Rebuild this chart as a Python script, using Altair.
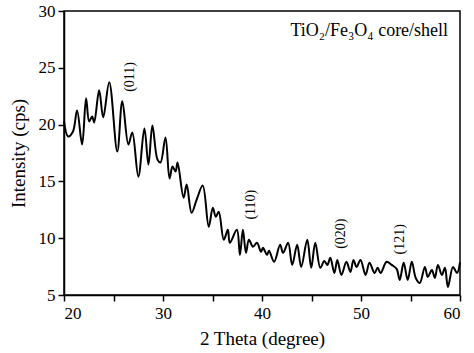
import altair as alt
import pandas as pd

# XRD pattern (2θ in degrees, intensity in cps)
two_theta = [20.0, 20.41, 20.91, 21.32, 21.83, 22.23, 22.54, 22.84, 23.05, 23.55,
             23.96, 24.57, 25.38, 25.89, 26.50, 26.90, 27.51, 28.12, 28.53, 28.93,
             29.44, 29.75, 30.25, 30.66, 30.96, 31.27, 31.47, 32.08, 32.39, 32.89,
             33.40, 34.01, 34.62, 35.03, 35.33, 35.63, 36.14, 36.55, 36.75, 37.46,
             37.77, 38.07, 38.38, 38.68, 39.09, 39.49, 39.90, 40.10, 40.51, 40.71,
             41.22, 41.83, 42.13, 42.64, 43.05, 43.55, 43.96, 44.57, 44.97, 45.38,
             45.89, 46.29, 46.60, 46.90, 47.31, 47.61, 48.02, 48.53, 48.93, 49.24,
             49.54, 49.95, 50.46, 50.86, 51.37, 51.68, 51.98, 52.59, 53.10, 53.60,
             53.91, 54.31, 54.72, 55.13, 55.53, 55.94, 56.45, 56.75, 57.16, 57.46,
             57.77, 58.17, 58.48, 58.78, 59.29, 59.70, 60.0]
intensity = [20.28, 18.96, 19.40, 21.25, 18.25, 22.31, 20.28, 20.72, 20.19, 23.02,
             20.64, 23.73, 17.63, 22.05, 18.25, 19.31, 15.42, 19.66, 16.48, 19.93,
             16.93, 16.66, 18.87, 15.25, 16.31, 15.87, 16.66, 13.57, 14.72, 12.24,
             13.39, 14.63, 11.01, 12.69, 11.89, 12.33, 9.86, 10.74, 9.59, 10.74,
             8.53, 10.74, 8.71, 9.86, 9.24, 9.59, 8.80, 9.15, 8.53, 8.89,
             7.92, 9.42, 8.71, 9.59, 7.65, 9.42, 7.47, 9.86, 7.39, 9.59,
             7.39, 8.00, 7.65, 8.27, 6.94, 8.09, 6.77, 7.92, 7.03, 8.09,
             7.47, 8.09, 6.77, 7.83, 6.94, 7.39, 6.94, 7.92, 7.65, 7.30,
             6.33, 7.83, 6.33, 7.92, 6.50, 6.06, 7.47, 6.59, 7.21, 6.50,
             7.65, 6.77, 7.39, 5.71, 7.47, 6.94, 7.90]

peak_labels = ["(011)", "(110)", "(020)", "(121)"]
peak_x = [26.7, 38.9, 48.0, 53.9]
peak_y = [24.2, 12.95, 10.4, 9.9]

sample_label = ["TiO\u2082/Fe\u2083O\u2084 core/shell"]
sample_x = [58.8]
sample_y = [28.2]

x_ticks = [20, 25, 30, 35, 40, 45, 50, 55, 60]
y_ticks = [5, 7.5, 10, 12.5, 15, 17.5, 20, 22.5, 25, 27.5, 30]

FONT = "Liberation Serif"

df = pd.DataFrame({"x": two_theta, "y": intensity})
df_peaks = pd.DataFrame({"label": peak_labels, "x": peak_x, "y": peak_y})
df_sample = pd.DataFrame({"label": sample_label, "x": sample_x, "y": sample_y})

xscale = alt.Scale(domain=[20, 60], nice=False, zero=False)
yscale = alt.Scale(domain=[5, 30], nice=False, zero=False)

line = alt.Chart(df).mark_line(
    color="black", strokeWidth=2, interpolate="catmull-rom"
).encode(
    x=alt.X("x:Q", scale=xscale,
            axis=alt.Axis(title="2 Theta (degree)", values=x_ticks,
                          labelExpr="datum.value % 10 == 0 ? datum.label : ''",
                          titlePadding=8, labelPadding=4,
                          labelFont=FONT, titleFont=FONT)),
    y=alt.Y("y:Q", scale=yscale,
            axis=alt.Axis(title="Intensity (cps)", values=y_ticks,
                          labelExpr="datum.value % 5 == 0 ? datum.label : ''",
                          titlePadding=10, labelPadding=3,
                          labelFont=FONT, titleFont=FONT)),
)

peaks = alt.Chart(df_peaks).mark_text(
    angle=270, font=FONT, fontSize=14, color="black"
).encode(x=alt.X("x:Q", scale=xscale), y=alt.Y("y:Q", scale=yscale), text="label:N")

sample = alt.Chart(df_sample).mark_text(
    align="right", baseline="middle", font=FONT, fontSize=18, color="black"
).encode(x=alt.X("x:Q", scale=xscale), y=alt.Y("y:Q", scale=yscale), text="label:N")

chart = alt.layer(line, peaks, sample).properties(
    width=396, height=284,
    padding={"left": 9, "top": 2, "right": 6, "bottom": 5},
    background="white",
).configure(
    font=FONT
).configure_view(
    stroke="black", strokeWidth=1.5
).configure_axis(
    grid=False, domainColor="black", domainWidth=1.5, tickColor="black",
    tickWidth=1.5, tickSize=6, labelFont=FONT, labelFontSize=17,
    labelColor="black", titleFont=FONT, titleFontSize=19,
    titleFontWeight="normal", titleColor="black",
)

chart.save("out.html", embed_options={"renderer": "svg", "actions": False})
